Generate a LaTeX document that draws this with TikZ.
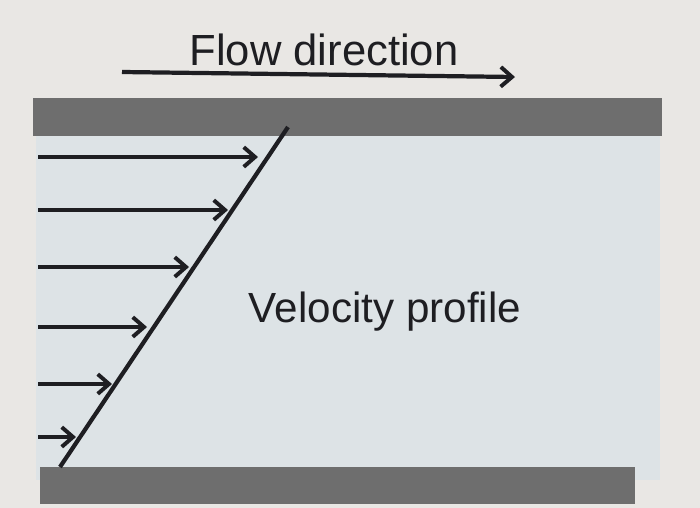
\documentclass[tikz,border=0pt]{standalone}
\usepackage{fontspec}
\setmainfont{Liberation Sans}
\usetikzlibrary{arrows.meta}
\definecolor{bg}{HTML}{E9E7E4}
\definecolor{panel}{HTML}{DDE3E6}
\definecolor{bar}{HTML}{6E6E6E}
\definecolor{ink}{HTML}{1E1E22}
\tikzset{flow/.style={draw=ink,line width=3pt,-{Straight Barb[length=8pt,width=14pt,line width=2.8pt]}}}
\begin{document}
\begin{tikzpicture}[x=0.025cm,y=-0.025cm]
\fill[bg] (0,0) rectangle (700,508);
\fill[panel] (36,100) rectangle (660,480);
\fill[bar] (33,98) rectangle (662,136);
\fill[bar] (40,467) rectangle (635,504);
\node[font=\fontsize{31}{34}\selectfont,text=ink] (title) at (324,50) {Flow direction};
\coordinate (fa) at (122,72);
\coordinate (fb) at (515,77);
\draw[flow] (fa) -- (fb);
\coordinate (p0) at (60,467);
\coordinate (p1) at (288,127);
\draw[ink,line width=3pt] (p0) -- (p1);
\foreach \y/\x [count=\i] in {157/258,210/228,267/189,327/147,384/112,437/76}{
  \coordinate (s\i) at (38,\y);
  \coordinate (e\i) at (\x,\y);
  \draw[flow] (s\i) -- (e\i);
}
\node[font=\fontsize{30}{34}\selectfont,text=ink] (vp) at (385,312) {Velocity profile};
\end{tikzpicture}
\end{document}
